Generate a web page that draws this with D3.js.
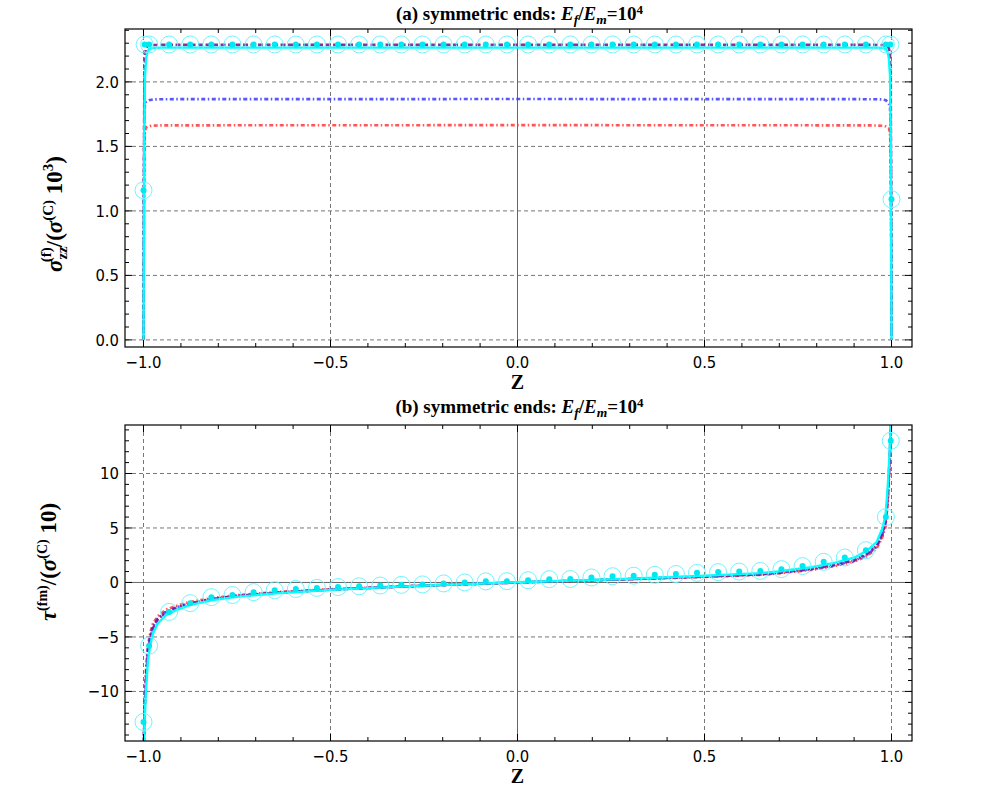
<!DOCTYPE html>
<html><head><meta charset="utf-8">
<script src="https://cdn.jsdelivr.net/npm/d3@7/dist/d3.min.js"></script>
<style>body{margin:0;background:#fff}</style>
</head><body>
<svg id="c" width="1000" height="790"></svg>
<script>
// ---------- data ----------
const xTicks = [-1.0, -0.5, 0.0, 0.5, 1.0];
const yTicksA = [0.0, 0.5, 1.0, 1.5, 2.0];
const yTicksB = [-10, -5, 0, 5, 10];

// panel (a): sigma_zz
const zA = [-1, -0.999, -0.998, -0.996, -0.993, -0.99, -0.985, -0.975, -0.95, 0, 0.95, 0.975, 0.985, 0.99, 0.993, 0.996, 0.998, 0.999, 1];
const cyanA   = [0, 0.9, 1.6, 2.05, 2.18, 2.23, 2.255, 2.264, 2.266, 2.266, 2.266, 2.264, 2.255, 2.23, 2.18, 2.05, 1.6, 0.9, 0];
const purpleA = [0, 1.1, 1.9, 2.22, 2.26, 2.275, 2.283, 2.286, 2.287, 2.287, 2.287, 2.286, 2.283, 2.275, 2.26, 2.22, 1.9, 1.1, 0];
const blueA   = [0, 1.2, 1.7, 1.83, 1.845, 1.85, 1.858, 1.864, 1.866, 1.867, 1.866, 1.864, 1.858, 1.84, 1.83, 1.8, 1.6, 1.1, 0];
const redA    = [0, 1.1, 1.5, 1.62, 1.645, 1.652, 1.657, 1.661, 1.663, 1.665, 1.663, 1.66, 1.655, 1.645, 1.64, 1.6, 1.45, 1.0, 0];
const markZA  = [-1, -0.997, -0.985, -0.9315, -0.875, -0.8186, -0.7622, -0.7057, -0.6493, -0.5928, -0.5364, -0.4799, -0.4235, -0.367, -0.3106, -0.2541, -0.1977, -0.1412, -0.0848, -0.0283, 0.0283, 0.0848, 0.1412, 0.1977, 0.2541, 0.3106, 0.367, 0.4235, 0.4799, 0.5364, 0.5928, 0.6493, 0.7057, 0.7622, 0.8186, 0.875, 0.9315, 0.985, 0.997, 1];
const markA   = [1.16, 2.29, 2.29, 2.29, 2.29, 2.29, 2.29, 2.29, 2.29, 2.29, 2.29, 2.29, 2.29, 2.29, 2.29, 2.29, 2.29, 2.29, 2.29, 2.29, 2.29, 2.29, 2.29, 2.29, 2.29, 2.29, 2.29, 2.29, 2.29, 2.29, 2.29, 2.29, 2.29, 2.29, 2.29, 2.29, 2.29, 2.29, 2.29, 1.09];

// panel (b): interfacial shear
const zB = [-1, -0.997, -0.993, -0.988, -0.982, -0.975, -0.962, -0.94, -0.913, -0.877, -0.815, -0.752, -0.645, -0.5, -0.3, -0.15, 0, 0.15, 0.3, 0.5, 0.651, 0.696, 0.786, 0.848, 0.902, 0.934, 0.96, 0.975, 0.984, 0.99, 0.995, 1];
const cyanB   = [-16, -12.6, -9.6, -7.1, -5.75, -4.7, -3.76, -3.0, -2.54, -2.08, -1.62, -1.32, -1.0, -0.68, -0.36, -0.16, 0.02, 0.18, 0.34, 0.62, 0.86, 1.0, 1.4, 1.8, 2.3, 2.9, 3.7, 4.9, 6.1, 8.8, 12, 16];
const purpleB = [-16, -11.8, -8.6, -6.3, -5.1, -4.2, -3.4, -2.75, -2.35, -1.95, -1.52, -1.25, -0.95, -0.66, -0.36, -0.17, 0.0, 0.16, 0.31, 0.55, 0.76, 0.9, 1.25, 1.62, 2.07, 2.6, 3.35, 4.45, 5.6, 8.0, 11.3, 16];
const blueB   = [-16, -11.5, -8.3, -6.0, -4.9, -4.05, -3.3, -2.68, -2.3, -1.92, -1.5, -1.23, -0.94, -0.65, -0.36, -0.17, 0.0, 0.16, 0.31, 0.53, 0.74, 0.87, 1.21, 1.58, 2.0, 2.52, 3.25, 4.3, 5.4, 7.7, 11, 16];
const redB    = [-16, -11, -7.8, -5.8, -4.6, -3.8, -3.1, -2.5, -2.15, -1.8, -1.42, -1.17, -0.88, -0.62, -0.35, -0.17, -0.01, 0.15, 0.3, 0.5, 0.7, 0.82, 1.15, 1.5, 1.92, 2.42, 3.1, 4.1, 5.1, 7.2, 10.5, 16];
const markZB  = [-1, -0.985, -0.9315, -0.875, -0.8186, -0.7622, -0.7057, -0.6493, -0.5928, -0.5364, -0.4799, -0.4235, -0.367, -0.3106, -0.2541, -0.1977, -0.1412, -0.0848, -0.0283, 0.0283, 0.0848, 0.1412, 0.1977, 0.2541, 0.3106, 0.367, 0.4235, 0.4799, 0.5364, 0.5928, 0.6493, 0.7057, 0.7622, 0.8186, 0.875, 0.9315, 0.985, 0.998];
const markB   = [-12.8, -5.8, -2.7, -1.9, -1.35, -1.15, -0.89, -0.71, -0.6, -0.5, -0.42, -0.35, -0.28, -0.22, -0.18, -0.09, 0.0, 0.1, 0.12, 0.21, 0.3, 0.32, 0.46, 0.57, 0.62, 0.7, 0.78, 0.88, 0.95, 1.0, 1.06, 1.22, 1.5, 1.89, 2.29, 2.96, 6.0, 13.0];

// ---------- drawing ----------
const svg = d3.select("#c");
const L = 125, R = 912;
const x = d3.scaleLinear().domain([-1.0495, 1.0548]).range([L, R]);

const serif = "'Liberation Serif','DejaVu Serif',serif";
const sans = "'DejaVu Sans Condensed','DejaVu Sans',sans-serif";

function panel(cfg) {
  const g = svg.append("g");
  const y = d3.scaleLinear().domain(cfg.ydom).range([cfg.bottom, cfg.top]);
  const id = "clip" + cfg.name;
  svg.append("clipPath").attr("id", id).append("rect")
    .attr("x", L).attr("y", cfg.top).attr("width", R - L).attr("height", cfg.bottom - cfg.top);

  const grid = g.append("g");
  cfg.yticks.forEach(v => {
    if (v === 0 && cfg.zeroAxis) return;
    grid.append("line").attr("x1", L).attr("x2", R).attr("y1", y(v)).attr("y2", y(v))
      .attr("stroke", "#777").attr("stroke-width", 1).attr("stroke-dasharray", "4,3");
  });
  xTicks.forEach(v => {
    if (v === 0) return;
    grid.append("line").attr("x1", x(v)).attr("x2", x(v)).attr("y1", cfg.top).attr("y2", cfg.bottom)
      .attr("stroke", "#777").attr("stroke-width", 1).attr("stroke-dasharray", "4,3");
  });
  grid.append("line").attr("x1", x(0)).attr("x2", x(0)).attr("y1", cfg.top).attr("y2", cfg.bottom)
    .attr("stroke", "#666").attr("stroke-width", 1);
  if (cfg.zeroAxis) grid.append("line").attr("x1", L).attr("x2", R).attr("y1", y(0)).attr("y2", y(0))
    .attr("stroke", "#666").attr("stroke-width", 1);

  const plot = g.append("g").attr("clip-path", `url(#${id})`);
  const line = (zs, vs) => d3.line().x((d, i) => x(zs[i])).y(d => y(d))(vs);

  plot.append("path").attr("d", line(cfg.z, cfg.red)).attr("fill", "none")
    .attr("stroke", "#ff3a3a").attr("stroke-opacity", 0.85).attr("stroke-width", 2.6)
    .attr("stroke-dasharray", "4,2.5,1.5,2.5");
  plot.append("path").attr("d", line(cfg.z, cfg.blue)).attr("fill", "none")
    .attr("stroke", "#3a3aff").attr("stroke-opacity", 0.85).attr("stroke-width", 2.6)
    .attr("stroke-dasharray", "4,2.5,1.5,2.5");
  plot.append("path").attr("d", line(cfg.z, cfg.purple)).attr("fill", "none")
    .attr("stroke", "#7d1a8c").attr("stroke-opacity", 0.9).attr("stroke-width", 2.6)
    .attr("stroke-dasharray", "5,2.5");
  plot.append("path").attr("d", line(cfg.z, cfg.cyan)).attr("fill", "none")
    .attr("stroke", "#00ffff").attr("stroke-width", 2.4);

  const mk = plot.append("g");
  cfg.mz.forEach((zz, i) => {
    mk.append("circle").attr("cx", x(zz)).attr("cy", y(cfg.mv[i])).attr("r", 8.5)
      .attr("fill", "none").attr("stroke", "#70f4ff").attr("stroke-width", 1);
    mk.append("circle").attr("cx", x(zz)).attr("cy", y(cfg.mv[i])).attr("r", 3)
      .attr("fill", "#00e8f0");
  });

  g.append("rect").attr("x", L).attr("y", cfg.top).attr("width", R - L).attr("height", cfg.bottom - cfg.top)
    .attr("fill", "none").attr("stroke", "#000").attr("stroke-width", 1.2);

  const tk = g.append("g").attr("stroke", "#000").attr("stroke-width", 1);
  const xMinor = d3.range(-10, 11).map(k => k / 10);
  xMinor.forEach(v => {
    const major = Math.abs(v * 2 - Math.round(v * 2)) < 1e-9;
    const len = major ? 7 : 4;
    tk.append("line").attr("x1", x(v)).attr("x2", x(v)).attr("y1", cfg.bottom).attr("y2", cfg.bottom - len);
    tk.append("line").attr("x1", x(v)).attr("x2", x(v)).attr("y1", cfg.top).attr("y2", cfg.top + len);
  });
  cfg.yminor.forEach(v => {
    const major = cfg.yticks.some(t => Math.abs(t - v) < 1e-9);
    const len = major ? 7 : 4;
    tk.append("line").attr("x1", L).attr("x2", L + len).attr("y1", y(v)).attr("y2", y(v));
    tk.append("line").attr("x1", R).attr("x2", R - len).attr("y1", y(v)).attr("y2", y(v));
  });

  xTicks.forEach(v => {
    g.append("text").attr("x", x(v)).attr("y", cfg.bottom + 21).attr("text-anchor", "middle")
      .attr("font-family", sans).attr("font-size", 16.5).text(d3.format(".1f")(v).replace("-", "\u2212"));
  });
  cfg.yticks.forEach(v => {
    g.append("text").attr("x", L - 6).attr("y", y(v) + 6).attr("text-anchor", "end")
      .attr("font-family", sans).attr("font-size", 16.5).text(cfg.yfmt(v).replace("-", "\u2212"));
  });

  g.append("text").attr("x", x(0)).attr("y", cfg.bottom + 42).attr("text-anchor", "middle")
    .attr("font-family", serif).attr("font-weight", "bold").attr("font-size", 20).text("Z");

  const t = g.append("text").attr("x", x(0) + 2).attr("y", cfg.titleY).attr("text-anchor", "middle")
    .attr("font-family", serif).attr("font-weight", "bold").attr("font-size", 19);
  t.append("tspan").text(cfg.title + " symmetric ends: ");
  t.append("tspan").attr("font-style", "italic").text("E");
  t.append("tspan").attr("font-style", "italic").attr("font-size", 13.5).attr("dy", 4).text("f");
  t.append("tspan").attr("dy", -4).text("/");
  t.append("tspan").attr("font-style", "italic").text("E");
  t.append("tspan").attr("font-style", "italic").attr("font-size", 13.5).attr("dy", 4).text("m");
  t.append("tspan").attr("dy", -4).text("=10");
  t.append("tspan").attr("font-size", 13).attr("dy", -6).text("4");

  const yl = g.append("text").attr("transform", `translate(${cfg.ylx},${cfg.ylc}) rotate(-90)`)
    .attr("text-anchor", "middle").attr("font-family", serif).attr("font-weight", "bold").attr("font-size", 23);
  cfg.ylabel(yl);
}

panel({
  name: "a", top: 29, bottom: 347, ydom: [-0.055, 2.41],
  yticks: yTicksA, yminor: d3.range(0, 25).map(k => k / 10), yfmt: d3.format(".1f"), zeroAxis: false,
  z: zA, cyan: cyanA, purple: purpleA, blue: blueA, red: redA, mz: markZA, mv: markA,
  title: "(a)", titleY: 20, ylx: 62, ylc: 214,
  ylabel: (t) => {
    t.append("tspan").attr("font-style", "italic").text("σ");
    t.append("tspan").attr("font-size", 15).attr("dy", 5).text("zz");
    t.append("tspan").attr("font-size", 15).attr("dy", -16).attr("dx", -16).text("(f)");
    t.append("tspan").attr("dy", 11).text("/(");
    t.append("tspan").attr("font-style", "italic").text("σ");
    t.append("tspan").attr("font-size", 15).attr("dy", -9).text("(C)");
    t.append("tspan").attr("dy", 9).text(" 10");
    t.append("tspan").attr("font-size", 15).attr("dy", -9).text("3");
    t.append("tspan").attr("dy", 9).text(")");
  }
});

panel({
  name: "b", top: 425, bottom: 741, ydom: [-14.55, 14.45],
  yticks: yTicksB, yminor: d3.range(-14, 15), yfmt: d3.format("d"), zeroAxis: true,
  z: zB, cyan: cyanB, purple: purpleB, blue: blueB, red: redB, mz: markZB, mv: markB,
  title: "(b)", titleY: 413, ylx: 56, ylc: 562,
  ylabel: (t) => {
    t.append("tspan").attr("font-style", "italic").text("τ");
    t.append("tspan").attr("font-size", 14).attr("dy", -9).text("(fm)");
    t.append("tspan").attr("dy", 9).text("/(");
    t.append("tspan").attr("font-style", "italic").text("σ");
    t.append("tspan").attr("font-size", 14).attr("dy", -9).text("(C)");
    t.append("tspan").attr("dy", 9).text(" 10)");
  }
});
</script>
</body></html>
